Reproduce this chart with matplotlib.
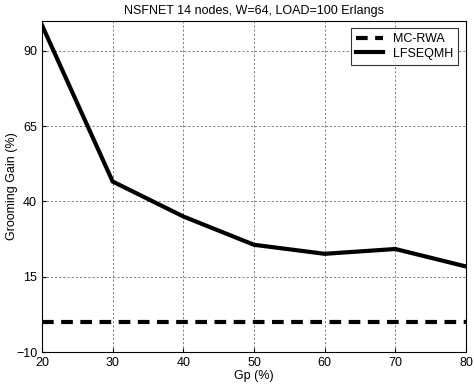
import matplotlib
matplotlib.use("Agg")
import matplotlib.pyplot as plt

plt.rcParams['font.family'] = ['Liberation Sans', 'DejaVu Sans']

gp = [20, 30, 40, 50, 60, 70, 80]
lfseqmh = [98.5, 46.6, 35.0, 25.6, 22.6, 24.2, 18.4]
mc_rwa = [0, 0, 0, 0, 0, 0, 0]

fig = plt.figure(figsize=(4.74, 3.9), dpi=100)
ax = fig.add_axes([0.0886, 0.0974, 0.8944, 0.8496])

ax.plot(gp, mc_rwa, color='black', lw=3.0, ls=(0, (2.8, 1.8)), label='MC-RWA')
ax.plot(gp, lfseqmh, color='black', lw=3.0, label='LFSEQMH')

ax.set_xlim(20, 80)
ax.set_ylim(-10, 100)
ax.set_xticks(gp)
ax.set_yticks([-10, 15, 40, 65, 90])
ax.grid(True, color='#666666', ls=(0, (2.5, 2.5)), lw=0.6)
ax.tick_params(direction='in', labelsize=9, length=3)
for s in ax.spines.values():
    s.set_linewidth(0.8)

ax.set_xlabel('Gp (%)', fontsize=9, labelpad=1)
ax.set_ylabel('Grooming Gain (%)', fontsize=9)
ax.yaxis.set_label_coords(-0.056, 0.5)
ax.set_title('NSFNET 14 nodes, W=64, LOAD=100 Erlangs', fontsize=9, pad=5)

leg = ax.legend(loc='upper right', fontsize=9, frameon=True, fancybox=False,
                edgecolor='black', handlelength=2.2, borderpad=0.4,
                labelspacing=0.2, borderaxespad=0.6)
leg.get_frame().set_linewidth(0.8)

fig.savefig('out.png', dpi=100)
